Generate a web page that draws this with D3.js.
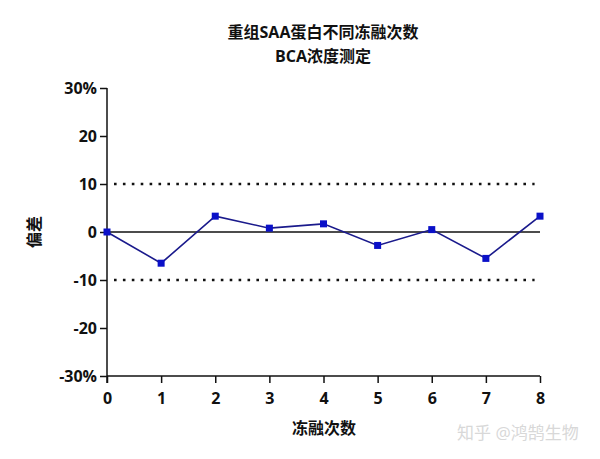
<!DOCTYPE html>
<html><head><meta charset="utf-8">
<script src="https://cdn.jsdelivr.net/npm/d3@7/dist/d3.min.js"></script>
<style>body{margin:0;background:#fff}svg{display:block}text{font-family:"Open Sans","Noto Sans CJK SC",sans-serif}</style>
</head><body><svg id="c" width="600" height="459"></svg>
<script>
const cycles = [0,1,2,3,4,5,6,7,8];
const deviation = [0,-6.5,3.3,0.8,1.7,-2.8,0.5,-5.5,3.3];
const yTicks = [30,20,10,0,-10,-20,-30];
const yTickLabels = ["30%","20","10","0","-10","-20","-30%"];
const limits = [10,-10];
const titleLines = ["重组SAA蛋白不同冻融次数","BCA浓度测定"];

const svg = d3.select("#c");
const x = d3.scaleLinear().domain([0,8]).range([107,540]);
const y = d3.scaleLinear().domain([-30,30]).range([376,88]);
const font = '"Open Sans","Noto Sans CJK SC",sans-serif';

// title
svg.selectAll("text.title").data(titleLines).join("text")
  .attr("x",323).attr("y",(d,i)=>38+i*24).attr("text-anchor","middle")
  .attr("font-size",16).attr("font-weight","bold").attr("fill","#111").text(d=>d);

// y axis
const ya = d3.axisLeft(y).tickValues(yTicks).tickFormat((d,i)=>yTickLabels[i]).tickSize(7).tickSizeOuter(0);
const gy = svg.append("g").attr("transform","translate(107,0)").call(ya);
gy.select(".domain").attr("d","M0,88V383").attr("stroke","#111").attr("stroke-width",1.5);
gy.selectAll(".tick line").attr("stroke","#111").attr("stroke-width",1.5);
gy.selectAll(".tick text").attr("font-size",16).attr("font-weight","bold").attr("fill","#111")
  .attr("font-family",font).attr("x",-10);

// x axis
const xa = d3.axisBottom(x).tickValues(cycles).tickFormat(d3.format("d")).tickSize(7).tickSizeOuter(0);
const gx = svg.append("g").attr("transform","translate(0,376)").call(xa);
gx.select(".domain").attr("d","M107,0H540").attr("stroke","#111").attr("stroke-width",1.5);
gx.selectAll(".tick line").attr("stroke","#111").attr("stroke-width",1.5);
gx.selectAll(".tick text").attr("font-size",16).attr("font-weight","bold").attr("fill","#111")
  .attr("font-family",font).attr("y",17);

// zero line
svg.append("line").attr("x1",x(0)).attr("x2",x(8)).attr("y1",y(0)).attr("y2",y(0))
  .attr("stroke","#111").attr("stroke-width",1.5);

// limit dotted lines
svg.selectAll("line.lim").data(limits).join("line").attr("class","lim")
  .attr("x1",x(0)+7).attr("x2",x(7.9)).attr("y1",d=>y(d)).attr("y2",d=>y(d))
  .attr("stroke","#111").attr("stroke-width",2.6).attr("stroke-dasharray","2.6 6.3");

// series line
svg.append("path").datum(cycles.map((c,i)=>[c,deviation[i]]))
  .attr("d",d3.line().x(d=>x(d[0])).y(d=>y(d[1])))
  .attr("fill","none").attr("stroke","#1a1a8c").attr("stroke-width",1.6);

svg.selectAll("rect.pt").data(cycles).join("rect").attr("class","pt")
  .attr("x",(d)=>x(d)-3.5).attr("y",(d,i)=>y(deviation[i])-3.5).attr("width",7).attr("height",7)
  .attr("fill","#0a10c8");

// axis labels
svg.append("text").attr("x",324).attr("y",434).attr("text-anchor","middle")
  .attr("font-size",16).attr("font-weight","bold").attr("fill","#111").text("冻融次数");
svg.append("text").attr("transform","translate(40,232) rotate(-90)").attr("text-anchor","middle")
  .attr("font-size",16).attr("font-weight","bold").attr("fill","#111").text("偏差");

// watermark
svg.append("text").attr("x",457).attr("y",439).attr("font-size",17).attr("fill","#d8d8d8")
  .attr("font-family",'"Noto Sans CJK SC",sans-serif').text("知乎 @鸿鹄生物");
</script></body></html>
